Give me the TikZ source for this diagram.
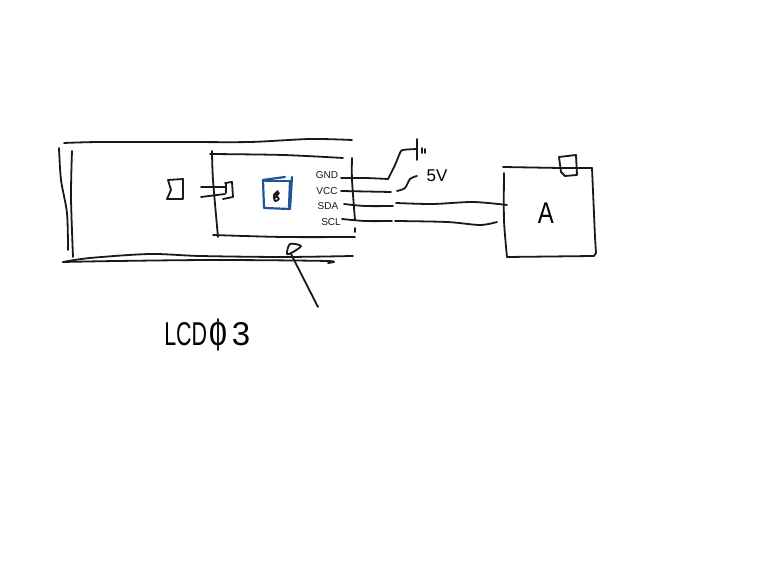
\documentclass[tikz,border=0pt]{standalone}
\usepackage{fontspec}
\setmainfont{Liberation Sans}
\definecolor{penblue}{RGB}{30,85,150}
\tikzset{
	ink/.style={line width=0.9pt, color=black!90, line cap=round, line join=round},
	blueink/.style={line width=1.1pt, color=penblue, line cap=round, line join=round},
	tag/.style={inner sep=0pt, color=black!90, font=\fontsize{5}{5}\selectfont},
	bigtag/.style={inner sep=0pt, font=\fontsize{16.5}{16.5}\selectfont},
}
\begin{document}
\begin{tikzpicture}[x=0.5pt, y=-0.5pt]
	%%%%% START %%%%%
	\useasboundingbox[fill=white] (0, 0) rectangle (768, 576);
	
	% outer panel
	\draw[ink] plot[smooth] coordinates {(64, 143) (100, 142) (183, 142) (250, 142) (310, 139) (352, 140)};
	\draw[ink] plot[smooth] coordinates {(59, 148) (61, 180) (67, 213) (68, 250)};
	\draw[ink] plot[smooth] coordinates {(72, 151) (71, 197) (73, 257)};
	\draw[ink] plot[smooth] coordinates {(63, 262) (90, 258) (150, 254) (200, 256) (283, 257) (353, 256)};
	\draw[ink] plot[smooth] coordinates {(63, 262) (117, 261) (217, 260) (327, 261) (328, 263)};
	
	% board
	\draw[ink] plot[smooth] coordinates {(212, 151) (213, 180) (218, 237)};
	\draw[ink] plot[smooth] coordinates {(210, 154) (283, 155) (343, 158)};
	\draw[ink] plot[smooth] coordinates {(213, 235) (283, 237) (355, 237)};
	\draw[ink] plot[smooth] coordinates {(352, 158) (352, 180) (355, 220)};
	\draw[ink] (355, 228) -- (355, 232);
	
	% plug and socket
	\draw[ink] (168, 180) -- (183, 179) -- (183, 199) -- (167, 199) -- (171, 190) -- cycle;
	\draw[ink] (201, 187) -- (225, 187);
	\draw[ink] (201, 197) -- (225, 194);
	\draw[ink] (225, 183) -- (232, 182) -- (233, 197) -- (223, 199);
	\draw[ink] (226, 183) -- (226, 193);
	
	% blue square
	\draw[blueink] (263, 180) -- (264, 208) -- (290, 209) -- (292, 177);
	\draw[blueink] (263, 180) -- (285, 177);
	\draw[blueink] (265, 181) -- (290, 181);
	\draw[blueink] (290, 181) -- (289, 207);
	\draw[ink] plot[smooth] coordinates {(278, 191) (274, 195) (275, 201) (279, 199) (276, 195) (279, 193) (275, 198)};
	
	% pin labels
	\node[tag] (gnd) at (327, 175) {GND};
	\node[tag] (vcc) at (327, 191) {VCC};
	\node[tag] (sda) at (328, 206) {SDA};
	\node[tag] (scl) at (331, 222) {SCL};
	
	% wires
	\draw[ink] plot[smooth] coordinates {(341, 178) (365, 178) (388, 179)};
	\draw[ink] plot[smooth] coordinates {(388, 179) (395, 165) (400, 153) (403, 150) (417, 149)};
	\draw[ink] (417, 139) -- (417, 160);
	\draw[ink] (422, 148) -- (422, 153);
	\draw[ink] (425, 149) -- (425, 153);
	\draw[ink] (341, 191) -- (391, 192);
	\draw[ink] plot[smooth] coordinates {(397, 191) (405, 188) (410, 179) (417, 176)};
	\node[inner sep=0pt, font=\fontsize{8.5}{8.5}\selectfont] (five) at (437, 176) {5V};
	\draw[ink] plot[smooth] coordinates {(344, 204) (365, 206) (393, 206)};
	\draw[ink] plot[smooth] coordinates {(396, 203) (433, 204) (473, 202) (507, 205)};
	\draw[ink] plot[smooth] coordinates {(342, 219) (365, 221) (392, 221)};
	\draw[ink] plot[smooth] coordinates {(395, 221) (447, 222) (480, 225) (497, 222)};
	
	% box A
	\draw[ink] (503, 167) -- (560, 168) -- (592, 168);
	\draw[ink] plot[smooth] coordinates {(504, 173) (504, 220) (507, 257)};
	\draw[ink] (592, 168) -- (595, 237);
	\draw[ink] (595, 237) -- (596, 253) -- (594, 256) -- (507, 257);
	\draw[ink] (559, 157) -- (576, 155) -- (577, 175) -- (565, 176) -- (561, 172) -- cycle;
	\node[inner sep=0pt, xscale=0.8, font=\fontsize{15}{15}\selectfont] (boxa) at (546, 213) {A};
	
	% arrow and name
	\draw[ink] plot[smooth cycle] coordinates {(287, 254) (290, 244) (301, 246) (293, 252)};
	\draw[ink] (291, 254) -- (318, 307);
	\node[bigtag, xscale=0.65, anchor=west] (name) at (164, 334) {LCD};
	\node[bigtag] (zero) at (218, 334) {0};
	\node[bigtag] (three) at (241, 334) {3};
	\draw[ink] (218, 319) -- (218, 350);
	%%%%% END %%%%%
\end{tikzpicture}
\end{document}
